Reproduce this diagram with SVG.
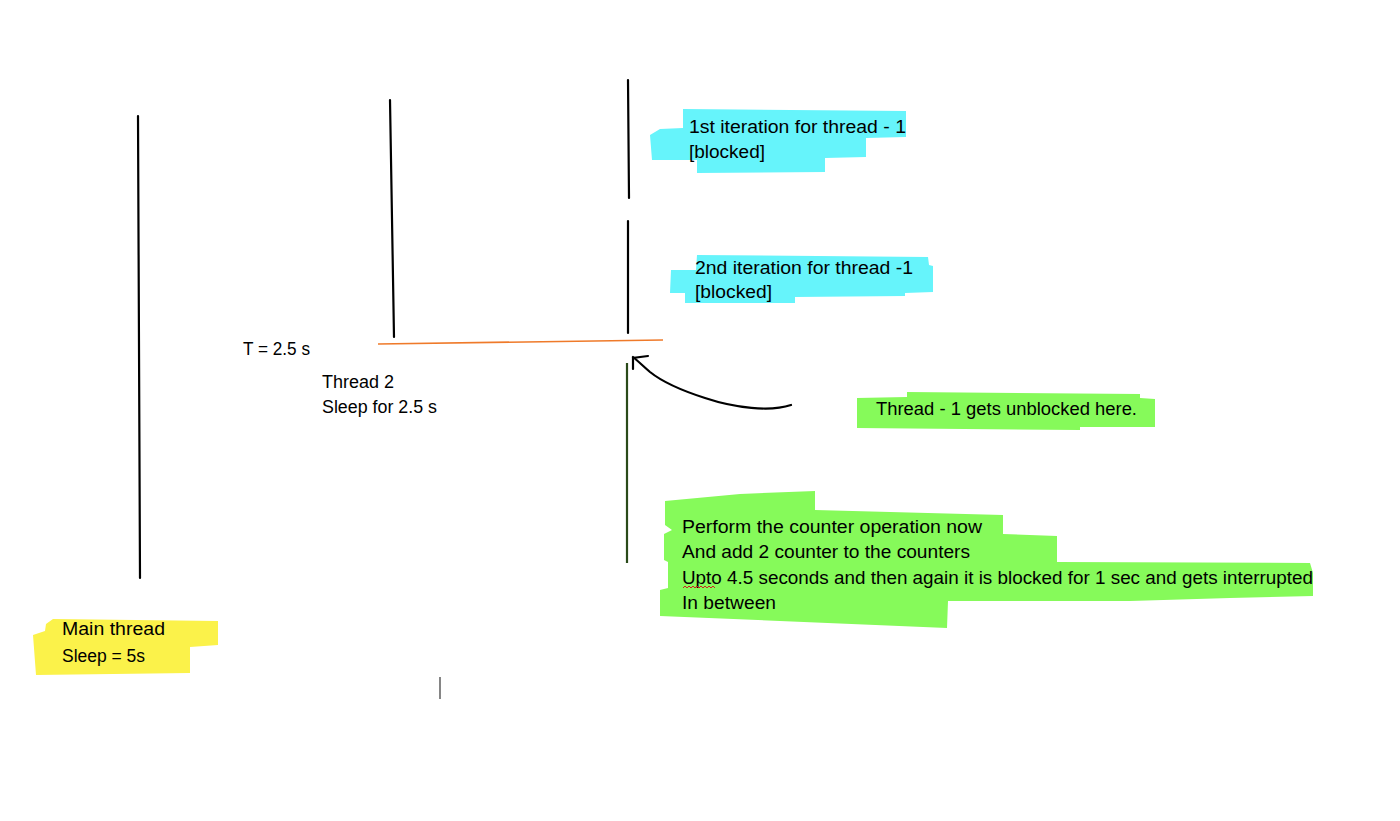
<svg xmlns="http://www.w3.org/2000/svg" width="1400" height="821" viewBox="0 0 1400 821">
<style>
.t{font-family:"Liberation Sans",Arial,sans-serif;font-size:17.5px;fill:#000;}
.ln{stroke:#000;stroke-width:2.2;fill:none;stroke-linecap:round;}
.cy{fill:#66f4fb;}
.gr{fill:#86fa5a;}
.ye{fill:#fbf24a;}
</style>
<rect width="1400" height="821" fill="#fff"/>
<g id="connectors">
<path class="ln" d="M138,116 L140,578"/>
<path class="ln" d="M390,100 L394,337"/>
<path class="ln" d="M628,80 L629,198"/>
<path class="ln" d="M628,221 L628,333"/>
<path d="M627,363 L627,563" stroke="#2a4a1a" stroke-width="2.2" fill="none"/>
<path d="M378,344 L663,340" stroke="#ef7a2a" stroke-width="1.6" fill="none"/>
<path d="M440,677 L440,699" stroke="#444" stroke-width="1.3"/>
<path class="ln" d="M791,405 C770,412 735,408 705,398 C680,390 660,380 650,372 C643,366 638,361 633,357"/>
<path class="ln" d="M648,356 L633,358 L633,369"/>
</g>
<g id="main-thread">
<path class="ye" d="M53,619 L218,621 L218,645 L190,647 L190,673 L36,675 L33,635 L45,631 L46,624 Z"/>
<text class="t" x="62" y="635" textLength="103" lengthAdjust="spacingAndGlyphs">Main thread</text>
<text class="t" x="62" y="662" textLength="83" lengthAdjust="spacingAndGlyphs">Sleep = 5s</text>
</g>
<g id="t-label">
<text class="t" x="243" y="355" textLength="67" lengthAdjust="spacingAndGlyphs">T = 2.5 s</text>
</g>
<g id="thread2">
<text class="t" x="322" y="388" textLength="72" lengthAdjust="spacingAndGlyphs">Thread 2</text>
<text class="t" x="322" y="413" textLength="115" lengthAdjust="spacingAndGlyphs">Sleep for 2.5 s</text>
</g>
<g id="iter1">
<path class="cy" d="M683,109 L906,111 L906,137 L866,138 L866,157 L825,158 L825,172 L697,173 L697,160 L652,160 L650,135 L660,129 L683,128 Z"/>
<text class="t" x="689" y="133" textLength="217" lengthAdjust="spacingAndGlyphs">1st iteration for thread - 1</text>
<text class="t" x="689" y="158" textLength="76" lengthAdjust="spacingAndGlyphs">[blocked]</text>
</g>
<g id="iter2">
<path class="cy" d="M697,255 L928,257 L929,265 L933,266 L933,292 L905,293 L905,296 L795,297 L795,303 L685,303 L685,293 L670,293 L671,270 L696,270 Z"/>
<text class="t" x="695" y="274" textLength="218" lengthAdjust="spacingAndGlyphs">2nd iteration for thread -1</text>
<text class="t" x="695" y="298" textLength="77" lengthAdjust="spacingAndGlyphs">[blocked]</text>
</g>
<g id="unblocked">
<path class="gr" d="M907,392 L1140,394 L1140,398 L1155,399 L1155,427 L1080,427 L1080,430 L857,428 L857,398 L907,397 Z"/>
<text class="t" x="876" y="415" textLength="261" lengthAdjust="spacingAndGlyphs">Thread - 1 gets unblocked here.</text>
</g>
<g id="counter">
<path class="gr" d="M665,501 L740,494 L815,491 L815,510 L1003,515 L1003,534 L1057,536 L1057,562 L1310,563 L1313,573 L1313,596 L1230,598 L1130,601 L948,601 L947,628 L660,616 L660,590 L668,588 L668,562 L664,560 L664,534 L672,530 L665,525 Z"/>
<text class="t" x="682" y="533" textLength="300" lengthAdjust="spacingAndGlyphs">Perform the counter operation now</text>
<text class="t" x="682" y="558" textLength="288" lengthAdjust="spacingAndGlyphs">And add 2 counter to the counters</text>
<text class="t" x="682" y="584" textLength="631" lengthAdjust="spacingAndGlyphs">Upto 4.5 seconds and then again it is blocked for 1 sec and gets interrupted</text>
<path d="M683,588 l2,-2 l2,2 l2,-2 l2,2 l2,-2 l2,2 l2,-2 l2,2 l2,-2 l2,2 l2,-2 l2,2 l2,-2 l2,2 l2,-2 l2,2" stroke="#d02020" stroke-width="1" fill="none"/>
<text class="t" x="682" y="609" textLength="94" lengthAdjust="spacingAndGlyphs">In between</text>
</g>
</svg>
